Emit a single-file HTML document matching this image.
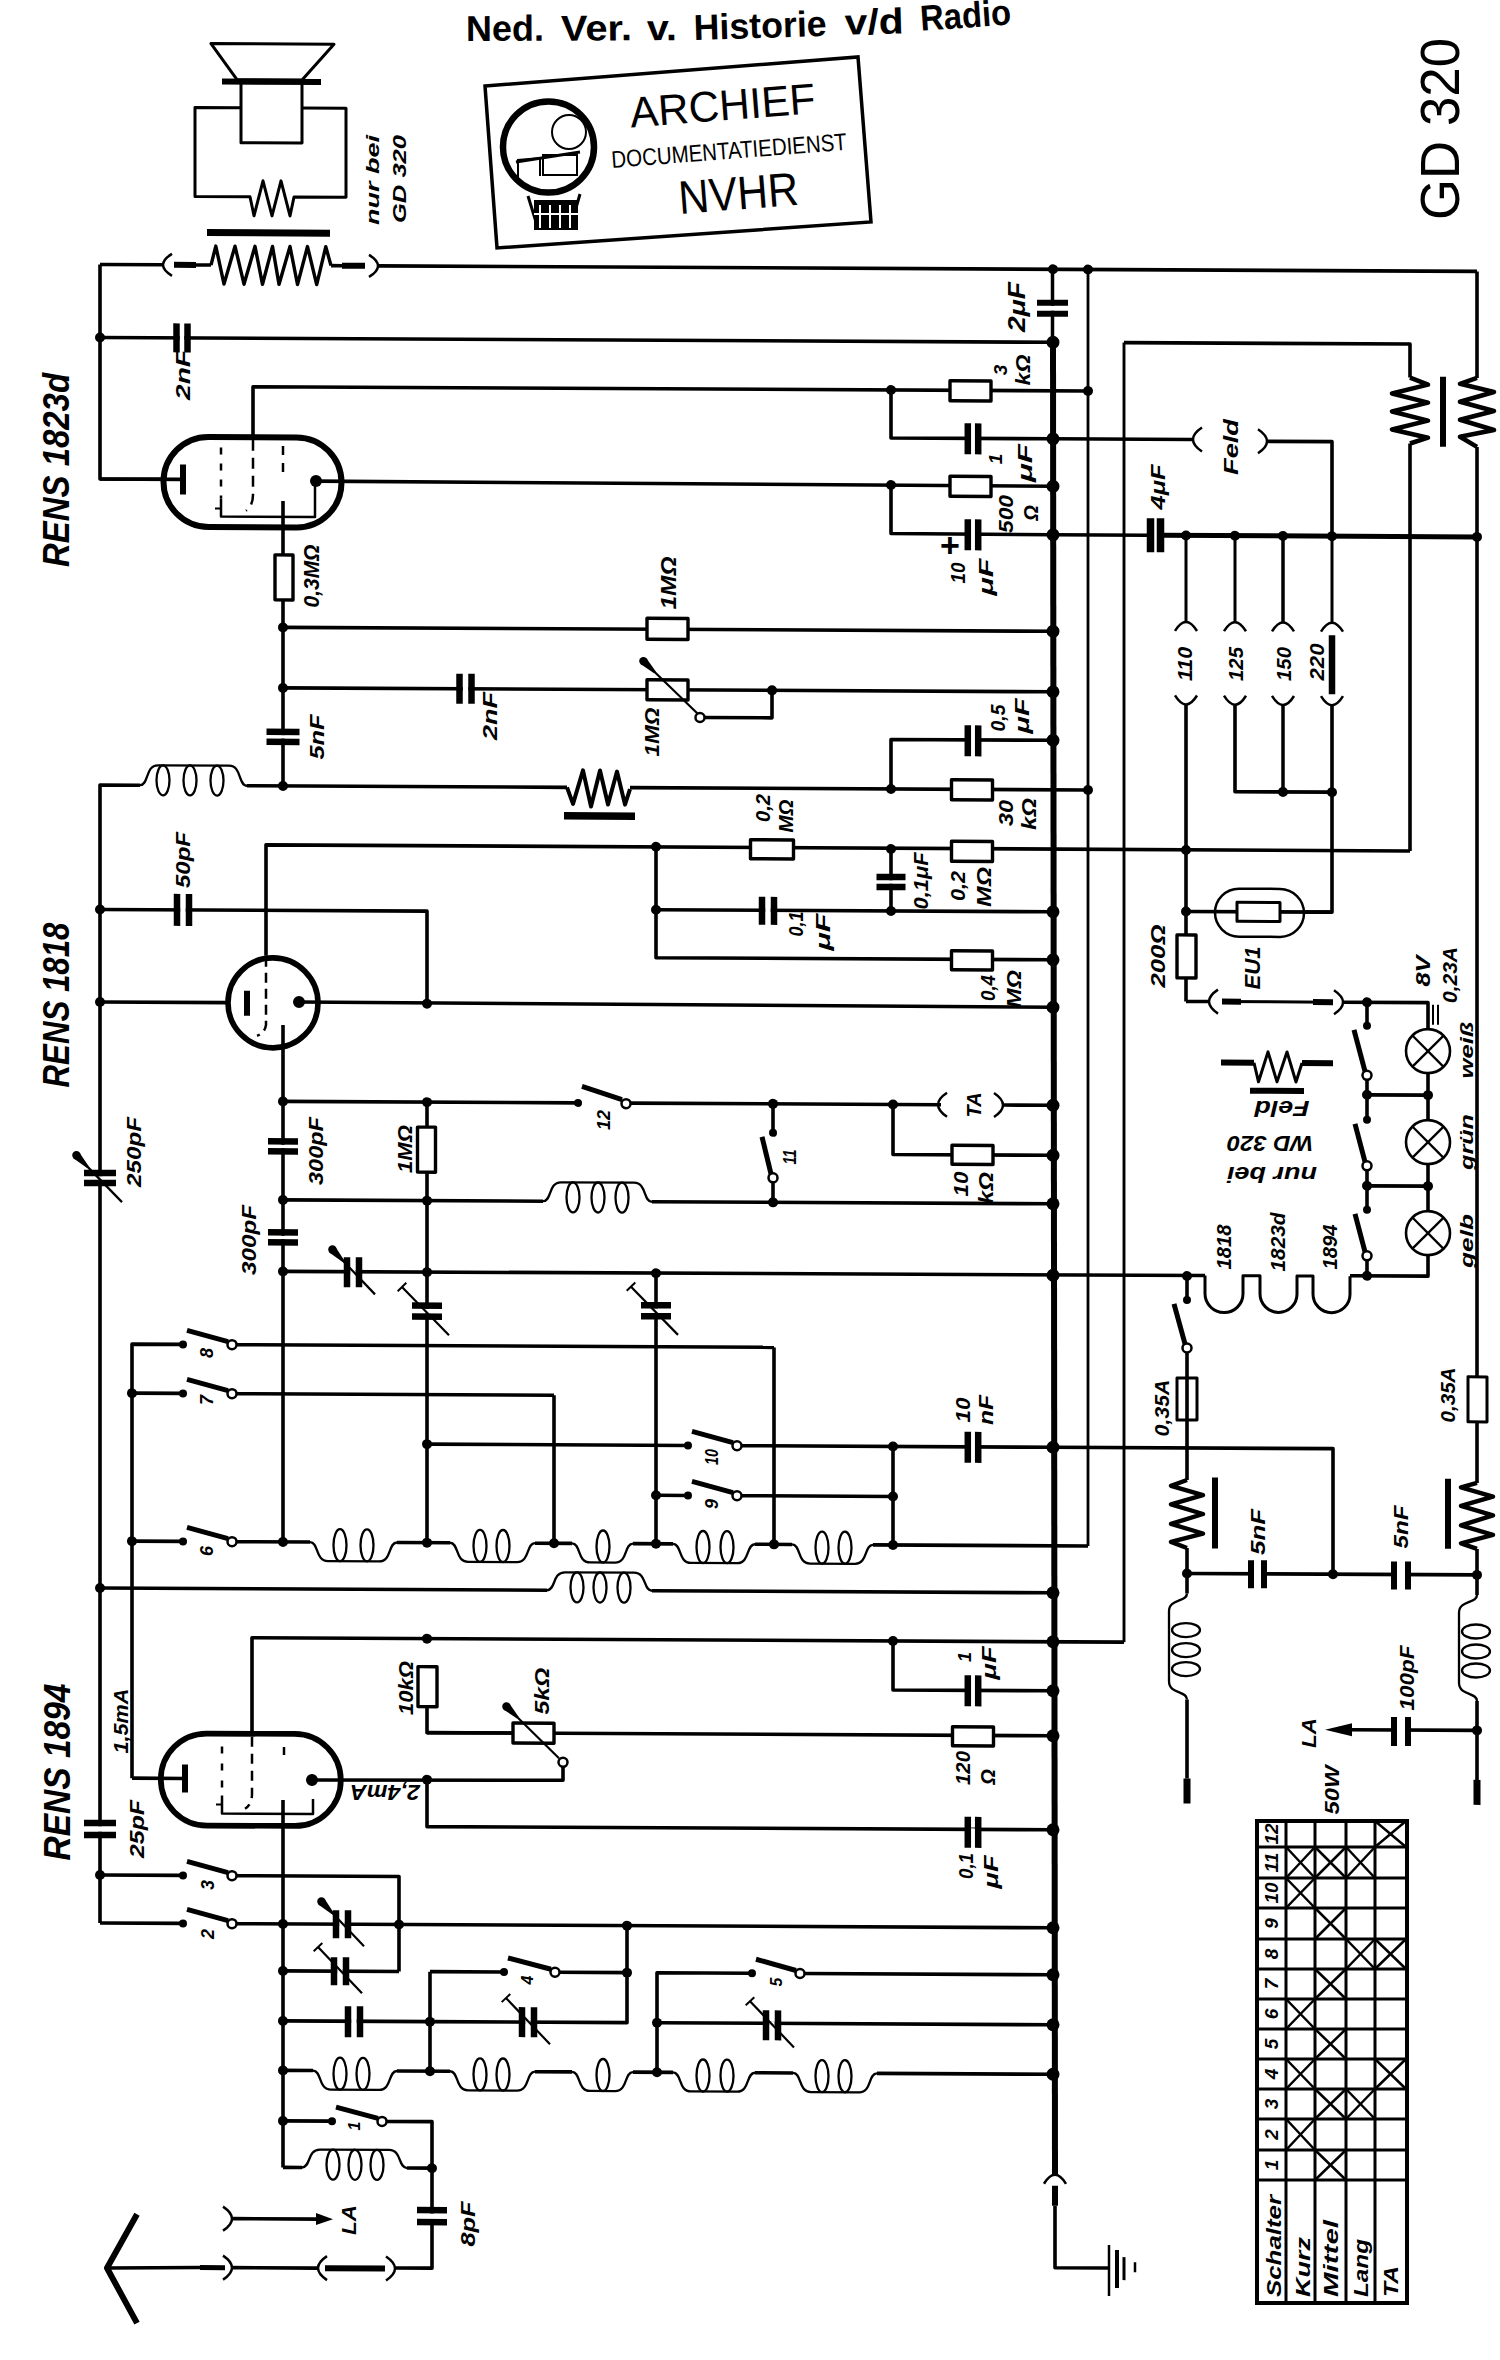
<!DOCTYPE html>
<html><head><meta charset="utf-8"><style>
html,body{margin:0;padding:0;background:#fff;}
svg{display:block;}
text{font-family:"Liberation Sans",sans-serif;fill:#000;}
</style></head><body>
<svg width="1500" height="2360" viewBox="0 0 1500 2360">
<rect width="1500" height="2360" fill="#fff"/>
<g stroke="#000" stroke-linecap="butt" stroke-linejoin="round" fill="none" transform="matrix(1,0.005,0,1,0,-2.5)">
<polygon points="211,45 334,45 302,81 237,81" stroke-width="3" fill="none"/>
<line x1="222" y1="83" x2="321" y2="83" stroke-width="6"/>
<polyline points="241,83 241,144 302,144 302,83" stroke-width="3" fill="none"/>
<polyline points="241,109 195,109 195,198 250,198 254,217 263,182 272,217 281,182 290,217 294,198 346,198 346,109 302,109" stroke-width="3" fill="none"/>
<line x1="207" y1="234" x2="330" y2="234" stroke-width="7"/>
<line x1="100" y1="266.5" x2="163" y2="266.5" stroke-width="3.6"/>
<path d="M172,255.5 Q154,266.5 172,277.5" stroke-width="2.5" fill="none"/>
<line x1="174" y1="266.5" x2="196" y2="266.5" stroke-width="6"/>
<line x1="196" y1="266.5" x2="211" y2="266.5" stroke-width="3.6"/>
<polyline points="211,266.5 215.8,247.5 224,285.5 235,247.5 244,285.5 255,247.5 262.5,285.5 272.5,247.5 279,285.5 290,247.5 297.5,285.5 307.5,247.5 316.7,285.5 325.8,247.5 331,266.5" stroke-width="3.4" fill="none"/>
<line x1="331" y1="266.5" x2="342" y2="266.5" stroke-width="3.6"/>
<line x1="342" y1="266.5" x2="365" y2="266.5" stroke-width="6"/>
<path d="M369,255.5 Q387,266.5 369,277.5" stroke-width="2.5" fill="none"/>
<line x1="378" y1="266.5" x2="1477" y2="266.5" stroke-width="3.6"/>
<circle cx="1053" cy="266.5" r="5" fill="#000" stroke="none"/>
<circle cx="1088" cy="266.5" r="5" fill="#000" stroke="none"/>
<polyline points="1477,266.5 1477,373" stroke-width="3.6" fill="none"/>
<polyline points="1124,1639 1124,339.5" stroke-width="2.9" fill="none"/>
<polyline points="1124,339.5 1410,339.5 1410,373" stroke-width="3.6" fill="none"/>
<polyline points="1410,373 1428,380 1392,389 1428,398 1392,407 1428,416 1392,425 1428,433 1410,439" stroke-width="4.6" fill="none"/>
<line x1="1443" y1="372" x2="1443" y2="442" stroke-width="6"/>
<polyline points="1477,373 1460,379 1494,387 1460,397 1494,406 1460,415 1494,425 1460,432 1477,442" stroke-width="4.6" fill="none"/>
<polyline points="1410,439 1410,846.5" stroke-width="3.6" fill="none"/>
<line x1="1477" y1="442" x2="1477" y2="1372" stroke-width="3.6"/>
<circle cx="1477" cy="532" r="5" fill="#000" stroke="none"/>
<line x1="1052.5" y1="266.5" x2="1052.5" y2="339.5" stroke-width="3.5"/>
<rect x="1048.5" y="303" width="8" height="5" fill="#fff" stroke="none"/>
<line x1="1037" y1="300" x2="1068" y2="300" stroke-width="6"/>
<line x1="1037" y1="311" x2="1068" y2="311" stroke-width="6"/>
<line x1="1053" y1="339.5" x2="1055" y2="2172.5" stroke-width="6"/>
<line x1="1088" y1="266.5" x2="1088" y2="1543" stroke-width="2.8"/>
<line x1="100" y1="339.5" x2="1053" y2="339.5" stroke-width="3.6"/>
<rect x="179.8" y="335.5" width="4.5" height="8" fill="#fff" stroke="none"/>
<line x1="176.5" y1="325" x2="176.5" y2="354" stroke-width="6.5"/>
<line x1="187.5" y1="325" x2="187.5" y2="354" stroke-width="6.5"/>
<circle cx="100" cy="339.5" r="5" fill="#000" stroke="none"/>
<circle cx="1053" cy="339.5" r="6.5" fill="#000" stroke="none"/>
<polyline points="162,481 100,481 100,266.5" stroke-width="3.6" fill="none"/>
<rect x="163.5" y="438.4" width="178" height="90" rx="45" ry="45" fill="none" stroke-width="6"/>
<line x1="181" y1="481" x2="100" y2="481" stroke-width="3.6"/>
<line x1="183" y1="466" x2="183" y2="496" stroke-width="6"/>
<polyline points="253,438.4 253,388 1088,388" stroke-width="3.6" fill="none"/>
<path d="M253,441 L253,496 Q253,507 246,512" fill="none" stroke-width="2.5" stroke-dasharray="11,7"/>
<line x1="221" y1="449" x2="221" y2="500" stroke-width="2.5" stroke-dasharray="7,9"/>
<polyline points="221,500 221,518 315,518 315,482" stroke-width="2.5" fill="none"/>
<line x1="215" y1="510" x2="221" y2="510" stroke-width="2"/>
<line x1="283" y1="447" x2="283" y2="478" stroke-width="2.5" stroke-dasharray="9,8"/>
<line x1="283" y1="502" x2="283" y2="787" stroke-width="3.6"/>
<circle cx="316" cy="482" r="6" fill="#000" stroke="none"/>
<rect x="275" y="556" width="18" height="45" fill="#fff" stroke-width="3.4"/>
<rect x="279" y="736.2" width="8" height="3.5" fill="#fff" stroke="none"/>
<line x1="266.5" y1="733" x2="299.5" y2="733" stroke-width="6.5"/>
<line x1="266.5" y1="743" x2="299.5" y2="743" stroke-width="6.5"/>
<circle cx="891" cy="388" r="5" fill="#000" stroke="none"/>
<circle cx="1088" cy="388" r="5" fill="#000" stroke="none"/>
<rect x="950" y="378.5" width="41" height="20" fill="#fff" stroke-width="3.4"/>
<polyline points="891,388 891,436 1053,436" stroke-width="3.6" fill="none"/>
<rect x="971" y="432.5" width="4" height="8" fill="#fff" stroke="none"/>
<line x1="967.8" y1="421" x2="967.8" y2="452" stroke-width="6.5"/>
<line x1="978.2" y1="421" x2="978.2" y2="452" stroke-width="6.5"/>
<circle cx="1053" cy="436" r="6.5" fill="#000" stroke="none"/>
<line x1="1053" y1="436" x2="1193" y2="436" stroke-width="3.6"/>
<path d="M1202,424 Q1184,436 1202,448" stroke-width="2.5" fill="none"/>
<path d="M1258,425.5 Q1276,437.5 1258,449.5" stroke-width="2.5" fill="none"/>
<polyline points="1267,437.5 1332,437.5 1332,532" stroke-width="3.6" fill="none"/>
<line x1="316" y1="482" x2="1053" y2="483.5" stroke-width="3.6"/>
<circle cx="891" cy="483" r="5" fill="#000" stroke="none"/>
<rect x="950" y="474" width="41" height="20" fill="#fff" stroke-width="3.4"/>
<circle cx="1053" cy="483.5" r="6.5" fill="#000" stroke="none"/>
<polyline points="891,483 891,531.5 1053,532" stroke-width="3.6" fill="none"/>
<rect x="971" y="528.5" width="4" height="8" fill="#fff" stroke="none"/>
<line x1="967.8" y1="517" x2="967.8" y2="548" stroke-width="6.5"/>
<line x1="978.2" y1="517" x2="978.2" y2="548" stroke-width="6.5"/>
<circle cx="1053" cy="532" r="6.5" fill="#000" stroke="none"/>
<line x1="1053" y1="532" x2="1148" y2="532" stroke-width="3.6"/>
<rect x="1154.2" y="528" width="2.5" height="8" fill="#fff" stroke="none"/>
<line x1="1150.5" y1="515" x2="1150.5" y2="549" stroke-width="7.5"/>
<line x1="1160.5" y1="515" x2="1160.5" y2="549" stroke-width="7.5"/>
<line x1="1162" y1="532" x2="1477" y2="532" stroke-width="5"/>
<circle cx="1186" cy="532" r="5" fill="#000" stroke="none"/>
<circle cx="1235" cy="532" r="5" fill="#000" stroke="none"/>
<circle cx="1283" cy="532" r="5" fill="#000" stroke="none"/>
<circle cx="1332" cy="532" r="5" fill="#000" stroke="none"/>
<line x1="1186" y1="532" x2="1186" y2="618.5" stroke-width="3"/>
<path d="M1175,627.5 Q1186,609.5 1197,627.5" stroke-width="2.5" fill="none"/>
<path d="M1175,692 Q1186,710 1197,692" stroke-width="2.5" fill="none"/>
<line x1="1235" y1="532" x2="1235" y2="618.5" stroke-width="3"/>
<path d="M1224,627.5 Q1235,609.5 1246,627.5" stroke-width="2.5" fill="none"/>
<path d="M1224,692 Q1235,710 1246,692" stroke-width="2.5" fill="none"/>
<line x1="1283" y1="532" x2="1283" y2="618.5" stroke-width="3.5"/>
<path d="M1272,627.5 Q1283,609.5 1294,627.5" stroke-width="2.5" fill="none"/>
<path d="M1272,692 Q1283,710 1294,692" stroke-width="2.5" fill="none"/>
<line x1="1332" y1="532" x2="1332" y2="618.5" stroke-width="3"/>
<path d="M1321,627.5 Q1332,609.5 1343,627.5" stroke-width="2.5" fill="none"/>
<path d="M1321,692 Q1332,710 1343,692" stroke-width="2.5" fill="none"/>
<line x1="1332" y1="631" x2="1332" y2="690" stroke-width="6.5"/>
<line x1="1186" y1="701" x2="1186" y2="998" stroke-width="3.6"/>
<rect x="1177" y="931.5" width="19" height="43" fill="#fff" stroke-width="3.4"/>
<circle cx="1186" cy="846.5" r="5" fill="#000" stroke="none"/>
<circle cx="1186" cy="908" r="5" fill="#000" stroke="none"/>
<polyline points="1186,998 1210,998" stroke-width="3.6" fill="none"/>
<polyline points="1235,701 1235,788 1332,788" stroke-width="3.6" fill="none"/>
<line x1="1283" y1="701" x2="1283" y2="788" stroke-width="3.5"/>
<circle cx="1283" cy="788" r="5" fill="#000" stroke="none"/>
<circle cx="1332" cy="788" r="5" fill="#000" stroke="none"/>
<polyline points="1332,701 1332,908 1304,908" stroke-width="3.6" fill="none"/>
<line x1="283" y1="628.5" x2="1053" y2="628.5" stroke-width="3.6"/>
<circle cx="283" cy="628.5" r="5" fill="#000" stroke="none"/>
<circle cx="1053" cy="628.5" r="6.5" fill="#000" stroke="none"/>
<rect x="647" y="617.5" width="41" height="21" fill="#fff" stroke-width="3.4"/>
<line x1="283" y1="689" x2="1053" y2="689" stroke-width="3.6"/>
<circle cx="283" cy="689" r="5" fill="#000" stroke="none"/>
<circle cx="1053" cy="689" r="6.5" fill="#000" stroke="none"/>
<rect x="462.8" y="685" width="5.5" height="8" fill="#fff" stroke="none"/>
<line x1="459.5" y1="674" x2="459.5" y2="704" stroke-width="6.5"/>
<line x1="471.5" y1="674" x2="471.5" y2="704" stroke-width="6.5"/>
<rect x="647" y="679" width="41" height="20" fill="#fff" stroke-width="3.4"/>
<line x1="642" y1="659" x2="698" y2="713" stroke-width="2.2"/>
<polygon points="640.5,663.4 654.1,672.4 655.8,670.6 646.4,657.4" fill="#000" stroke="none"/>
<circle cx="643.4" cy="660.4" r="4.2" fill="#000" stroke="none"/>
<circle cx="700" cy="716.5" r="4.5" fill="#fff" stroke-width="2.5"/>
<polyline points="704,716.5 772,716.5 772,689" stroke-width="3.6" fill="none"/>
<circle cx="772" cy="689" r="5" fill="#000" stroke="none"/>
<polyline points="891,787 891,737.5 1053,737.5" stroke-width="3.6" fill="none"/>
<rect x="971" y="734.5" width="4" height="8" fill="#fff" stroke="none"/>
<line x1="967.8" y1="723" x2="967.8" y2="754" stroke-width="6.5"/>
<line x1="978.2" y1="723" x2="978.2" y2="754" stroke-width="6.5"/>
<circle cx="1053" cy="737.5" r="6.5" fill="#000" stroke="none"/>
<polyline points="100,1925 100,787 140,787" stroke-width="3.6" fill="none"/>
<path d="M140,787 C149,787 145,767 158,767 L229,767 C242,767 238,787 247,787" stroke-width="2.3" fill="none"/>
<ellipse cx="163" cy="782" rx="6.5" ry="15" fill="none" stroke-width="2.3"/>
<ellipse cx="190" cy="782" rx="6.5" ry="15" fill="none" stroke-width="2.3"/>
<ellipse cx="217" cy="782" rx="6.5" ry="15" fill="none" stroke-width="2.3"/>
<line x1="247" y1="787" x2="567" y2="787" stroke-width="3.6"/>
<polyline points="567,787 573,803.5 583,770 591,806 600,770 608,804 617,771 625,804 630,788.5" stroke-width="4" fill="none"/>
<line x1="564" y1="815.5" x2="635" y2="815.5" stroke-width="7.5"/>
<line x1="630" y1="787" x2="1088" y2="787" stroke-width="3.6"/>
<circle cx="283" cy="787" r="5" fill="#000" stroke="none"/>
<circle cx="891" cy="787" r="5" fill="#000" stroke="none"/>
<circle cx="1088" cy="787" r="5" fill="#000" stroke="none"/>
<rect x="951.5" y="777.5" width="41" height="20" fill="#fff" stroke-width="3.4"/>
<polyline points="266,957 266,846 1410,846.5" stroke-width="3.6" fill="none"/>
<circle cx="656" cy="846" r="5" fill="#000" stroke="none"/>
<circle cx="891" cy="847" r="5" fill="#000" stroke="none"/>
<rect x="750.5" y="838.5" width="43" height="19" fill="#fff" stroke-width="3.4"/>
<rect x="951.5" y="839" width="41" height="20" fill="#fff" stroke-width="3.4"/>
<line x1="891" y1="847" x2="891" y2="909" stroke-width="3.6"/>
<rect x="887" y="878.2" width="8" height="3.5" fill="#fff" stroke="none"/>
<line x1="876.5" y1="875" x2="905.5" y2="875" stroke-width="6.5"/>
<line x1="876.5" y1="885" x2="905.5" y2="885" stroke-width="6.5"/>
<circle cx="891" cy="909" r="5" fill="#000" stroke="none"/>
<polyline points="100,911.5 427,911.5 427,1004" stroke-width="3.6" fill="none"/>
<rect x="180.2" y="907.5" width="5.5" height="8" fill="#fff" stroke="none"/>
<line x1="177" y1="895.5" x2="177" y2="927.5" stroke-width="6.5"/>
<line x1="189" y1="895.5" x2="189" y2="927.5" stroke-width="6.5"/>
<circle cx="100" cy="911.5" r="5" fill="#000" stroke="none"/>
<line x1="656" y1="909" x2="1053" y2="909" stroke-width="3.6"/>
<circle cx="656" cy="909" r="5" fill="#000" stroke="none"/>
<circle cx="1053" cy="909" r="6.5" fill="#000" stroke="none"/>
<rect x="765.2" y="905.5" width="5.5" height="8" fill="#fff" stroke="none"/>
<line x1="762" y1="895.5" x2="762" y2="923.5" stroke-width="6.5"/>
<line x1="774" y1="895.5" x2="774" y2="923.5" stroke-width="6.5"/>
<polyline points="656,846 656,957 1053,957" stroke-width="3.6" fill="none"/>
<rect x="951.5" y="948.5" width="41" height="19" fill="#fff" stroke-width="3.4"/>
<circle cx="1053" cy="957" r="6.5" fill="#000" stroke="none"/>
<line x1="1186" y1="908" x2="1332" y2="908" stroke-width="3.6"/>
<rect x="1215" y="885" width="89" height="48" rx="24" ry="24" fill="none" stroke-width="2.5"/>
<rect x="1237" y="898.6" width="43" height="19" fill="#fff" stroke-width="3"/>
<line x1="100" y1="1004" x2="227" y2="1004" stroke-width="3.6"/>
<circle cx="100" cy="1004" r="5" fill="#000" stroke="none"/>
<circle cx="273" cy="1004" r="45" fill="none" stroke-width="5.6"/>
<line x1="247" y1="992" x2="247" y2="1017" stroke-width="6"/>
<circle cx="299" cy="1003" r="6" fill="#000" stroke="none"/>
<line x1="299" y1="1003" x2="1053" y2="1004.5" stroke-width="3.6"/>
<circle cx="427" cy="1004" r="5" fill="#000" stroke="none"/>
<circle cx="1053" cy="1004.5" r="6.5" fill="#000" stroke="none"/>
<path d="M266,958 L266,1026 Q265,1034 257,1037" fill="none" stroke-width="2.5" stroke-dasharray="10,6"/>
<line x1="283" y1="1026" x2="283" y2="1543" stroke-width="3.6"/>
<circle cx="283" cy="1102.5" r="5" fill="#000" stroke="none"/>
<circle cx="283" cy="1201" r="5" fill="#000" stroke="none"/>
<circle cx="283" cy="1272.5" r="5" fill="#000" stroke="none"/>
<circle cx="283" cy="1543" r="5" fill="#000" stroke="none"/>
<rect x="279" y="1145.8" width="8" height="3.5" fill="#fff" stroke="none"/>
<line x1="268" y1="1142.5" x2="298" y2="1142.5" stroke-width="6.5"/>
<line x1="268" y1="1152.5" x2="298" y2="1152.5" stroke-width="6.5"/>
<rect x="279" y="1236.8" width="8" height="3.5" fill="#fff" stroke="none"/>
<line x1="268" y1="1233.5" x2="298" y2="1233.5" stroke-width="6.5"/>
<line x1="268" y1="1243.5" x2="298" y2="1243.5" stroke-width="6.5"/>
<line x1="283" y1="1102.5" x2="578" y2="1102.5" stroke-width="3.6"/>
<circle cx="578" cy="1102.5" r="4" fill="#000" stroke="none"/>
<line x1="582" y1="1086" x2="622" y2="1099" stroke-width="5"/>
<circle cx="626" cy="1103" r="4.5" fill="#fff" stroke-width="2.5"/>
<line x1="630" y1="1102.5" x2="941" y2="1102.5" stroke-width="3.6"/>
<circle cx="427" cy="1102.5" r="5" fill="#000" stroke="none"/>
<circle cx="773" cy="1102.5" r="5" fill="#000" stroke="none"/>
<circle cx="893" cy="1102.5" r="5" fill="#000" stroke="none"/>
<path d="M947,1090.5 Q929,1102.5 947,1114.5" stroke-width="2.5" fill="none"/>
<path d="M994,1090.5 Q1012,1102.5 994,1114.5" stroke-width="2.5" fill="none"/>
<line x1="1003" y1="1102.5" x2="1053" y2="1102.5" stroke-width="3.6"/>
<circle cx="1053" cy="1102.5" r="6.5" fill="#000" stroke="none"/>
<line x1="427" y1="1102.5" x2="427" y2="1543" stroke-width="3.6"/>
<rect x="417.5" y="1127.5" width="18" height="45" fill="#fff" stroke-width="3.4"/>
<circle cx="427" cy="1201" r="5" fill="#000" stroke="none"/>
<circle cx="427" cy="1272.5" r="5" fill="#000" stroke="none"/>
<circle cx="427" cy="1444.5" r="5" fill="#000" stroke="none"/>
<circle cx="427" cy="1543" r="5" fill="#000" stroke="none"/>
<rect x="423" y="1309.2" width="8" height="4.5" fill="#fff" stroke="none"/>
<line x1="412" y1="1306" x2="442" y2="1306" stroke-width="6.5"/>
<line x1="412" y1="1317" x2="442" y2="1317" stroke-width="6.5"/>
<line x1="402" y1="1287.5" x2="449" y2="1335.5" stroke-width="2.2"/>
<line x1="397.7" y1="1291.7" x2="406.3" y2="1283.3" stroke-width="2"/>
<line x1="773" y1="1102.5" x2="773" y2="1131.5" stroke-width="3.6"/>
<circle cx="773" cy="1131.5" r="4" fill="#000" stroke="none"/>
<line x1="762" y1="1135.5" x2="771" y2="1172.5" stroke-width="5"/>
<circle cx="773" cy="1176.5" r="4.5" fill="#fff" stroke-width="2.5"/>
<line x1="773" y1="1181" x2="773" y2="1201" stroke-width="3.6"/>
<circle cx="773" cy="1201" r="5" fill="#000" stroke="none"/>
<polyline points="893,1102.5 893,1152.5 1053,1152.5" stroke-width="3.6" fill="none"/>
<rect x="952" y="1143" width="41" height="19" fill="#fff" stroke-width="3.4"/>
<circle cx="1053" cy="1152.5" r="6.5" fill="#000" stroke="none"/>
<line x1="283" y1="1201" x2="543" y2="1201" stroke-width="3.6"/>
<path d="M543,1201 C552,1201 548,1182 561,1182 L634,1182 C647,1182 643,1201 652,1201" stroke-width="2.3" fill="none"/>
<ellipse cx="573" cy="1197" rx="6.5" ry="15" fill="none" stroke-width="2.3"/>
<ellipse cx="598" cy="1197" rx="6.5" ry="15" fill="none" stroke-width="2.3"/>
<ellipse cx="622" cy="1197" rx="6.5" ry="15" fill="none" stroke-width="2.3"/>
<line x1="652" y1="1201" x2="1053" y2="1201" stroke-width="3.6"/>
<circle cx="1053" cy="1201" r="6.5" fill="#000" stroke="none"/>
<line x1="283" y1="1272.5" x2="1205" y2="1272" stroke-width="3.6"/>
<rect x="350.2" y="1269" width="5.5" height="8" fill="#fff" stroke="none"/>
<line x1="347" y1="1258" x2="347" y2="1288" stroke-width="6.5"/>
<line x1="359" y1="1258" x2="359" y2="1288" stroke-width="6.5"/>
<line x1="331" y1="1249" x2="375" y2="1295" stroke-width="2.2"/>
<polygon points="329.3,1253.3 342.6,1262.8 344.3,1261.2 335.4,1247.5" fill="#000" stroke="none"/>
<circle cx="332.4" cy="1250.4" r="4.2" fill="#000" stroke="none"/>
<circle cx="656" cy="1272.5" r="5" fill="#000" stroke="none"/>
<circle cx="1053" cy="1272.5" r="6.5" fill="#000" stroke="none"/>
<circle cx="1187" cy="1272.5" r="5" fill="#000" stroke="none"/>
<path d="M1205,1272 L1205,1290 A19,19 0 0 0 1243,1290 L1243,1272 L1260,1272 L1260,1290 A18.5,18.5 0 0 0 1297,1290 L1297,1272 L1313,1272 L1313,1290 A18.5,18.5 0 0 0 1350,1290 L1350,1272" stroke-width="3" fill="none"/>
<polyline points="1350,1271.5 1428,1271.5 1428,1250.5" stroke-width="3.6" fill="none"/>
<circle cx="1367" cy="1271.5" r="5" fill="#000" stroke="none"/>
<line x1="656" y1="1272.5" x2="656" y2="1543" stroke-width="3.6"/>
<rect x="652" y="1307.8" width="8" height="4.5" fill="#fff" stroke="none"/>
<line x1="641" y1="1304.5" x2="671" y2="1304.5" stroke-width="6.5"/>
<line x1="641" y1="1315.5" x2="671" y2="1315.5" stroke-width="6.5"/>
<line x1="631" y1="1286" x2="678" y2="1334" stroke-width="2.2"/>
<line x1="626.7" y1="1290.2" x2="635.3" y2="1281.8" stroke-width="2"/>
<circle cx="656" cy="1494.5" r="5" fill="#000" stroke="none"/>
<circle cx="656" cy="1543" r="5" fill="#000" stroke="none"/>
<polyline points="132,1780 132,1346 183,1346" stroke-width="3.6" fill="none"/>
<circle cx="183" cy="1346" r="4" fill="#000" stroke="none"/>
<line x1="187" y1="1332" x2="228" y2="1343" stroke-width="5"/>
<circle cx="232" cy="1346" r="4.5" fill="#fff" stroke-width="2.5"/>
<line x1="236" y1="1346" x2="774" y2="1346" stroke-width="3.6"/>
<polyline points="774,1346 774,1543" stroke-width="3.6" fill="none"/>
<circle cx="132" cy="1395" r="5" fill="#000" stroke="none"/>
<line x1="132" y1="1395" x2="183" y2="1395" stroke-width="3.6"/>
<circle cx="183" cy="1395" r="4" fill="#000" stroke="none"/>
<line x1="187" y1="1381" x2="228" y2="1392" stroke-width="5"/>
<circle cx="232" cy="1395" r="4.5" fill="#fff" stroke-width="2.5"/>
<line x1="236" y1="1395" x2="554" y2="1395" stroke-width="3.6"/>
<polyline points="554,1395 554,1543" stroke-width="3.6" fill="none"/>
<line x1="427" y1="1444.5" x2="688" y2="1444.5" stroke-width="3.6"/>
<circle cx="688" cy="1444.5" r="4" fill="#000" stroke="none"/>
<line x1="692" y1="1430.5" x2="733" y2="1441.5" stroke-width="5"/>
<circle cx="737" cy="1444.5" r="4.5" fill="#fff" stroke-width="2.5"/>
<line x1="741" y1="1444.5" x2="1053" y2="1444.5" stroke-width="3.6"/>
<rect x="971" y="1441" width="4" height="8" fill="#fff" stroke="none"/>
<line x1="967.8" y1="1429.5" x2="967.8" y2="1460.5" stroke-width="6.5"/>
<line x1="978.2" y1="1429.5" x2="978.2" y2="1460.5" stroke-width="6.5"/>
<circle cx="893" cy="1444.5" r="5" fill="#000" stroke="none"/>
<circle cx="1053" cy="1444.5" r="6.5" fill="#000" stroke="none"/>
<polyline points="1053,1444.5 1333,1444.5 1333,1570" stroke-width="3.6" fill="none"/>
<line x1="656" y1="1494.5" x2="688" y2="1494.5" stroke-width="3.6"/>
<circle cx="688" cy="1494.5" r="4" fill="#000" stroke="none"/>
<line x1="692" y1="1480.5" x2="733" y2="1491.5" stroke-width="5"/>
<circle cx="737" cy="1494.5" r="4.5" fill="#fff" stroke-width="2.5"/>
<line x1="741" y1="1494.5" x2="893" y2="1494.5" stroke-width="3.6"/>
<circle cx="893" cy="1494.5" r="5" fill="#000" stroke="none"/>
<line x1="893" y1="1444.5" x2="893" y2="1543" stroke-width="3.6"/>
<line x1="132" y1="1543" x2="183" y2="1543" stroke-width="3.6"/>
<circle cx="183" cy="1543" r="4" fill="#000" stroke="none"/>
<line x1="187" y1="1529" x2="228" y2="1540" stroke-width="5"/>
<circle cx="232" cy="1543" r="4.5" fill="#fff" stroke-width="2.5"/>
<circle cx="132" cy="1543" r="5" fill="#000" stroke="none"/>
<line x1="236" y1="1543" x2="310" y2="1543" stroke-width="3.6"/>
<path d="M310,1543 C319,1543 315,1562 328,1562 L379,1562 C392,1562 388,1543 397,1543" stroke-width="2.3" fill="none"/>
<ellipse cx="340" cy="1546" rx="6.5" ry="16" fill="none" stroke-width="2.3"/>
<ellipse cx="367" cy="1546" rx="6.5" ry="16" fill="none" stroke-width="2.3"/>
<line x1="397" y1="1543" x2="450" y2="1543" stroke-width="3.6"/>
<path d="M450,1543 C459,1543 455,1562 468,1562 L517,1562 C530,1562 526,1543 535,1543" stroke-width="2.3" fill="none"/>
<ellipse cx="480" cy="1546" rx="6.5" ry="16" fill="none" stroke-width="2.3"/>
<ellipse cx="503" cy="1546" rx="6.5" ry="16" fill="none" stroke-width="2.3"/>
<line x1="535" y1="1543" x2="572" y2="1543" stroke-width="3.6"/>
<path d="M572,1543 C581,1543 577,1562 590,1562 L615,1562 C628,1562 624,1543 633,1543" stroke-width="2.3" fill="none"/>
<ellipse cx="603" cy="1546" rx="6.5" ry="16" fill="none" stroke-width="2.3"/>
<line x1="633" y1="1543" x2="673" y2="1543" stroke-width="3.6"/>
<path d="M673,1543 C682,1543 678,1562 691,1562 L737,1562 C750,1562 746,1543 755,1543" stroke-width="2.3" fill="none"/>
<ellipse cx="703" cy="1546" rx="6.5" ry="16" fill="none" stroke-width="2.3"/>
<ellipse cx="727" cy="1546" rx="6.5" ry="16" fill="none" stroke-width="2.3"/>
<line x1="755" y1="1543" x2="792" y2="1543" stroke-width="3.6"/>
<path d="M792,1543 C801,1543 797,1562 810,1562 L855,1562 C868,1562 864,1543 873,1543" stroke-width="2.3" fill="none"/>
<ellipse cx="822" cy="1546" rx="6.5" ry="16" fill="none" stroke-width="2.3"/>
<ellipse cx="845" cy="1546" rx="6.5" ry="16" fill="none" stroke-width="2.3"/>
<line x1="873" y1="1543" x2="1088" y2="1543" stroke-width="3.6"/>
<circle cx="554" cy="1543" r="5" fill="#000" stroke="none"/>
<circle cx="774" cy="1543" r="5" fill="#000" stroke="none"/>
<circle cx="893" cy="1543" r="5" fill="#000" stroke="none"/>
<line x1="100" y1="1590" x2="547" y2="1590" stroke-width="3.6"/>
<path d="M547,1590 C556,1590 552,1572 565,1572 L634,1572 C647,1572 643,1590 652,1590" stroke-width="2.3" fill="none"/>
<ellipse cx="577" cy="1587" rx="6.5" ry="15" fill="none" stroke-width="2.3"/>
<ellipse cx="600" cy="1587" rx="6.5" ry="15" fill="none" stroke-width="2.3"/>
<ellipse cx="624" cy="1587" rx="6.5" ry="15" fill="none" stroke-width="2.3"/>
<line x1="652" y1="1590" x2="1053" y2="1590" stroke-width="3.6"/>
<circle cx="100" cy="1590" r="5" fill="#000" stroke="none"/>
<circle cx="1053" cy="1590" r="6.5" fill="#000" stroke="none"/>
<polyline points="252,1735 252,1639 1124,1639" stroke-width="3.6" fill="none"/>
<circle cx="427" cy="1639" r="5" fill="#000" stroke="none"/>
<circle cx="893" cy="1639" r="5" fill="#000" stroke="none"/>
<circle cx="1053" cy="1639" r="6.5" fill="#000" stroke="none"/>
<rect x="418" y="1667" width="19" height="40" fill="#fff" stroke-width="3.4"/>
<polyline points="427,1707 427,1733 513,1733" stroke-width="3.6" fill="none"/>
<polyline points="893,1639 893,1688 1053,1688" stroke-width="3.6" fill="none"/>
<rect x="971" y="1684.5" width="4" height="8" fill="#fff" stroke="none"/>
<line x1="967.8" y1="1673" x2="967.8" y2="1704" stroke-width="6.5"/>
<line x1="978.2" y1="1673" x2="978.2" y2="1704" stroke-width="6.5"/>
<circle cx="1053" cy="1688" r="6.5" fill="#000" stroke="none"/>
<line x1="427" y1="1733" x2="1053" y2="1733" stroke-width="3.6"/>
<rect x="513" y="1723" width="41" height="20" fill="#fff" stroke-width="3.4"/>
<line x1="505" y1="1705" x2="559" y2="1758" stroke-width="2.2"/>
<polygon points="503.5,1709.4 517,1718.5 518.7,1716.8 509.4,1703.4" fill="#000" stroke="none"/>
<circle cx="506.4" cy="1706.4" r="4.2" fill="#000" stroke="none"/>
<circle cx="563" cy="1762" r="4.5" fill="#fff" stroke-width="2.5"/>
<polyline points="563,1766 563,1780 312,1781" stroke-width="3.6" fill="none"/>
<circle cx="427" cy="1780" r="5" fill="#000" stroke="none"/>
<rect x="952.5" y="1724.5" width="41" height="19" fill="#fff" stroke-width="3.4"/>
<circle cx="1053" cy="1733" r="6.5" fill="#000" stroke="none"/>
<rect x="160.8" y="1735" width="180" height="92" rx="46" ry="46" fill="none" stroke-width="5.7"/>
<line x1="132" y1="1780" x2="185" y2="1780" stroke-width="3.6"/>
<line x1="185" y1="1766" x2="185" y2="1794" stroke-width="6"/>
<path d="M252,1738 L252,1795 Q252,1806 245,1810" fill="none" stroke-width="2.5" stroke-dasharray="10,7"/>
<line x1="222" y1="1748" x2="222" y2="1797" stroke-width="2.5" stroke-dasharray="7,10"/>
<polyline points="222,1797 222,1815 313,1815 313,1800" stroke-width="2.5" fill="none"/>
<line x1="216" y1="1806" x2="222" y2="1806" stroke-width="2"/>
<line x1="284" y1="1748" x2="284" y2="1756" stroke-width="2.5"/>
<line x1="283" y1="1801" x2="283" y2="2168.5" stroke-width="3.6"/>
<circle cx="312" cy="1781" r="6" fill="#000" stroke="none"/>
<polyline points="427,1780 427,1827 1053,1827" stroke-width="3.6" fill="none"/>
<rect x="971" y="1826" width="4" height="8" fill="#fff" stroke="none"/>
<line x1="967.8" y1="1814.5" x2="967.8" y2="1845.5" stroke-width="6.5"/>
<line x1="978.2" y1="1814.5" x2="978.2" y2="1845.5" stroke-width="6.5"/>
<circle cx="1053" cy="1827" r="6.5" fill="#000" stroke="none"/>
<rect x="96" y="1178.2" width="8" height="3.5" fill="#fff" stroke="none"/>
<line x1="84" y1="1175" x2="116" y2="1175" stroke-width="6.5"/>
<line x1="84" y1="1185" x2="116" y2="1185" stroke-width="6.5"/>
<line x1="75" y1="1156" x2="122" y2="1204" stroke-width="2.2"/>
<polygon points="73.4,1160.4 86.7,1169.7 88.5,1168 79.4,1154.5" fill="#000" stroke="none"/>
<circle cx="76.4" cy="1157.4" r="4.2" fill="#000" stroke="none"/>
<rect x="96" y="1828.2" width="8" height="5.5" fill="#fff" stroke="none"/>
<line x1="84" y1="1825" x2="116" y2="1825" stroke-width="6.5"/>
<line x1="84" y1="1837" x2="116" y2="1837" stroke-width="6.5"/>
<line x1="100" y1="1877" x2="183" y2="1877" stroke-width="3.6"/>
<circle cx="183" cy="1877" r="4" fill="#000" stroke="none"/>
<line x1="187" y1="1863" x2="228" y2="1874" stroke-width="5"/>
<circle cx="232" cy="1877" r="4.5" fill="#fff" stroke-width="2.5"/>
<polyline points="236,1877 399,1877 399,1972" stroke-width="3.6" fill="none"/>
<circle cx="100" cy="1877" r="5" fill="#000" stroke="none"/>
<line x1="100" y1="1925" x2="183" y2="1925" stroke-width="3.6"/>
<circle cx="183" cy="1925" r="4" fill="#000" stroke="none"/>
<line x1="187" y1="1911" x2="228" y2="1922" stroke-width="5"/>
<circle cx="232" cy="1925" r="4.5" fill="#fff" stroke-width="2.5"/>
<line x1="236" y1="1925" x2="1053" y2="1925" stroke-width="3.6"/>
<circle cx="283" cy="1925" r="5" fill="#000" stroke="none"/>
<circle cx="399" cy="1925" r="5" fill="#000" stroke="none"/>
<circle cx="627" cy="1925" r="5" fill="#000" stroke="none"/>
<circle cx="1053" cy="1925" r="6.5" fill="#000" stroke="none"/>
<rect x="339.2" y="1921" width="5.5" height="8" fill="#fff" stroke="none"/>
<line x1="336" y1="1911" x2="336" y2="1939" stroke-width="6.5"/>
<line x1="348" y1="1911" x2="348" y2="1939" stroke-width="6.5"/>
<line x1="320" y1="1901" x2="364" y2="1947" stroke-width="2.2"/>
<polygon points="318.3,1905.3 331.6,1914.8 333.3,1913.2 324.4,1899.5" fill="#000" stroke="none"/>
<circle cx="321.4" cy="1902.4" r="4.2" fill="#000" stroke="none"/>
<line x1="283" y1="1972" x2="399" y2="1972" stroke-width="3.6"/>
<rect x="337.2" y="1968" width="5.5" height="8" fill="#fff" stroke="none"/>
<line x1="334" y1="1958" x2="334" y2="1986" stroke-width="6.5"/>
<line x1="346" y1="1958" x2="346" y2="1986" stroke-width="6.5"/>
<line x1="318" y1="1948" x2="362" y2="1994" stroke-width="2.2"/>
<line x1="313.7" y1="1952.1" x2="322.3" y2="1943.9" stroke-width="2"/>
<circle cx="283" cy="1972" r="5" fill="#000" stroke="none"/>
<line x1="430" y1="1972" x2="504" y2="1972" stroke-width="3.6"/>
<circle cx="504" cy="1972" r="4" fill="#000" stroke="none"/>
<line x1="508" y1="1958" x2="551" y2="1969" stroke-width="5"/>
<circle cx="555" cy="1972" r="4.5" fill="#fff" stroke-width="2.5"/>
<line x1="559" y1="1972" x2="627" y2="1972" stroke-width="3.6"/>
<circle cx="627" cy="1972" r="5" fill="#000" stroke="none"/>
<polyline points="627,1925 627,2022 430,2022" stroke-width="3.6" fill="none"/>
<line x1="283" y1="2022" x2="430" y2="2022" stroke-width="3.6"/>
<rect x="351.2" y="2018.5" width="5.5" height="8" fill="#fff" stroke="none"/>
<line x1="348" y1="2007" x2="348" y2="2038" stroke-width="6.5"/>
<line x1="360" y1="2007" x2="360" y2="2038" stroke-width="6.5"/>
<circle cx="283" cy="2022" r="5" fill="#000" stroke="none"/>
<circle cx="430" cy="2022" r="5" fill="#000" stroke="none"/>
<rect x="525.2" y="2018" width="5.5" height="8" fill="#fff" stroke="none"/>
<line x1="522" y1="2007" x2="522" y2="2037" stroke-width="6.5"/>
<line x1="534" y1="2007" x2="534" y2="2037" stroke-width="6.5"/>
<line x1="506" y1="1998" x2="550" y2="2044" stroke-width="2.2"/>
<line x1="501.7" y1="2002.1" x2="510.3" y2="1993.9" stroke-width="2"/>
<line x1="430" y1="1972" x2="430" y2="2071.5" stroke-width="3.6"/>
<polyline points="657,2071.5 657,1972 752,1972" stroke-width="3.6" fill="none"/>
<circle cx="752" cy="1972" r="4" fill="#000" stroke="none"/>
<line x1="756" y1="1958" x2="796" y2="1969" stroke-width="5"/>
<circle cx="800" cy="1972" r="4.5" fill="#fff" stroke-width="2.5"/>
<line x1="804" y1="1972" x2="1053" y2="1972" stroke-width="3.6"/>
<circle cx="1053" cy="1972" r="6.5" fill="#000" stroke="none"/>
<line x1="657" y1="2022" x2="1053" y2="2022" stroke-width="3.6"/>
<circle cx="657" cy="2022" r="5" fill="#000" stroke="none"/>
<circle cx="1053" cy="2022" r="6.5" fill="#000" stroke="none"/>
<rect x="769.2" y="2020" width="5.5" height="8" fill="#fff" stroke="none"/>
<line x1="766" y1="2009" x2="766" y2="2039" stroke-width="6.5"/>
<line x1="778" y1="2009" x2="778" y2="2039" stroke-width="6.5"/>
<line x1="750" y1="2000" x2="794" y2="2046" stroke-width="2.2"/>
<line x1="745.7" y1="2004.1" x2="754.3" y2="1995.9" stroke-width="2"/>
<line x1="283" y1="2071.5" x2="313" y2="2071.5" stroke-width="3.6"/>
<path d="M313,2071.5 C322,2071.5 318,2090.5 331,2090.5 L379,2090.5 C392,2090.5 388,2071.5 397,2071.5" stroke-width="2.3" fill="none"/>
<ellipse cx="340" cy="2074.5" rx="6.5" ry="16" fill="none" stroke-width="2.3"/>
<ellipse cx="363" cy="2074.5" rx="6.5" ry="16" fill="none" stroke-width="2.3"/>
<line x1="397" y1="2071.5" x2="450" y2="2071.5" stroke-width="3.6"/>
<path d="M450,2071.5 C459,2071.5 455,2090.5 468,2090.5 L517,2090.5 C530,2090.5 526,2071.5 535,2071.5" stroke-width="2.3" fill="none"/>
<ellipse cx="480" cy="2074.5" rx="6.5" ry="16" fill="none" stroke-width="2.3"/>
<ellipse cx="503" cy="2074.5" rx="6.5" ry="16" fill="none" stroke-width="2.3"/>
<line x1="535" y1="2071.5" x2="572" y2="2071.5" stroke-width="3.6"/>
<path d="M572,2071.5 C581,2071.5 577,2090.5 590,2090.5 L615,2090.5 C628,2090.5 624,2071.5 633,2071.5" stroke-width="2.3" fill="none"/>
<ellipse cx="603" cy="2074.5" rx="6.5" ry="16" fill="none" stroke-width="2.3"/>
<line x1="633" y1="2071.5" x2="673" y2="2071.5" stroke-width="3.6"/>
<path d="M673,2071.5 C682,2071.5 678,2090.5 691,2090.5 L737,2090.5 C750,2090.5 746,2071.5 755,2071.5" stroke-width="2.3" fill="none"/>
<ellipse cx="703" cy="2074.5" rx="6.5" ry="16" fill="none" stroke-width="2.3"/>
<ellipse cx="727" cy="2074.5" rx="6.5" ry="16" fill="none" stroke-width="2.3"/>
<line x1="755" y1="2071.5" x2="793" y2="2071.5" stroke-width="3.6"/>
<path d="M793,2071.5 C802,2071.5 798,2090.5 811,2090.5 L859,2090.5 C872,2090.5 868,2071.5 877,2071.5" stroke-width="2.3" fill="none"/>
<ellipse cx="822" cy="2074.5" rx="6.5" ry="16" fill="none" stroke-width="2.3"/>
<ellipse cx="845" cy="2074.5" rx="6.5" ry="16" fill="none" stroke-width="2.3"/>
<line x1="877" y1="2071.5" x2="1053" y2="2071.5" stroke-width="3.6"/>
<circle cx="283" cy="2071.5" r="5" fill="#000" stroke="none"/>
<circle cx="430" cy="2071.5" r="5" fill="#000" stroke="none"/>
<circle cx="657" cy="2071.5" r="5" fill="#000" stroke="none"/>
<circle cx="1053" cy="2071.5" r="6.5" fill="#000" stroke="none"/>
<line x1="283" y1="2122" x2="332" y2="2122" stroke-width="3.6"/>
<circle cx="283" cy="2122" r="5" fill="#000" stroke="none"/>
<circle cx="332" cy="2122" r="4" fill="#000" stroke="none"/>
<line x1="336" y1="2108" x2="378" y2="2119" stroke-width="5"/>
<circle cx="382" cy="2122" r="4.5" fill="#fff" stroke-width="2.5"/>
<polyline points="386,2122 432,2122 432,2268.5 395,2268.5" stroke-width="3.6" fill="none"/>
<polyline points="283,2168.5 302,2168.5" stroke-width="3.6" fill="none"/>
<path d="M302,2168.5 C311,2168.5 307,2150.5 320,2150.5 L389,2150.5 C402,2150.5 398,2168.5 407,2168.5" stroke-width="2.3" fill="none"/>
<ellipse cx="333" cy="2165.5" rx="6.5" ry="15" fill="none" stroke-width="2.3"/>
<ellipse cx="355" cy="2165.5" rx="6.5" ry="15" fill="none" stroke-width="2.3"/>
<ellipse cx="377" cy="2165.5" rx="6.5" ry="15" fill="none" stroke-width="2.3"/>
<line x1="407" y1="2168.5" x2="432" y2="2168.5" stroke-width="3.6"/>
<circle cx="432" cy="2168.5" r="5" fill="#000" stroke="none"/>
<rect x="428" y="2213.8" width="8" height="5.5" fill="#fff" stroke="none"/>
<line x1="417" y1="2210.5" x2="447" y2="2210.5" stroke-width="6.5"/>
<line x1="417" y1="2222.5" x2="447" y2="2222.5" stroke-width="6.5"/>
<polyline points="137,2216 107,2270 137,2325" stroke-width="6" fill="none"/>
<line x1="107" y1="2270" x2="200" y2="2269" stroke-width="3.6"/>
<line x1="200" y1="2269" x2="225" y2="2269" stroke-width="5"/>
<path d="M223,2257 Q241,2269 223,2281" stroke-width="2.5" fill="none"/>
<line x1="232" y1="2269" x2="318" y2="2269" stroke-width="3.6"/>
<path d="M327,2257 Q309,2269 327,2281" stroke-width="2.5" fill="none"/>
<line x1="325" y1="2269" x2="385" y2="2269" stroke-width="6"/>
<path d="M386,2257 Q404,2269 386,2281" stroke-width="2.5" fill="none"/>
<path d="M223,2208 Q241,2220 223,2232" stroke-width="2.5" fill="none"/>
<line x1="232" y1="2220" x2="320" y2="2220" stroke-width="3.6"/>
<polygon points="333,2220 316,2214 316,2226" fill="#000" stroke="none"/>
<path d="M1044,2181 Q1055,2163 1066,2181" stroke-width="2.5" fill="none"/>
<line x1="1055" y1="2183" x2="1055" y2="2203" stroke-width="6"/>
<polyline points="1055,2203 1055,2265 1109,2265" stroke-width="3.6" fill="none"/>
<line x1="1109" y1="2242" x2="1109" y2="2293" stroke-width="2.5"/>
<line x1="1117" y1="2247" x2="1117" y2="2285" stroke-width="4"/>
<line x1="1124" y1="2254" x2="1124" y2="2277" stroke-width="3"/>
<line x1="1135" y1="2259" x2="1135" y2="2269" stroke-width="2.5"/>
<path d="M1218,986 Q1200,998 1218,1010" stroke-width="2.5" fill="none"/>
<line x1="1222" y1="998" x2="1333" y2="998" stroke-width="3"/>
<line x1="1222" y1="998" x2="1241" y2="998" stroke-width="6"/>
<line x1="1313" y1="998" x2="1333" y2="998" stroke-width="6"/>
<path d="M1334,986 Q1352,998 1334,1010" stroke-width="2.5" fill="none"/>
<polyline points="1343,998 1428,998 1428,1024.5" stroke-width="3.6" fill="none"/>
<circle cx="1367" cy="998" r="5" fill="#000" stroke="none"/>
<line x1="1433" y1="1000" x2="1433" y2="1020" stroke-width="2"/>
<line x1="1438" y1="1000" x2="1438" y2="1020" stroke-width="2"/>
<circle cx="1428" cy="1046.5" r="22" fill="none" stroke-width="2.6"/>
<line x1="1412.4" y1="1030.9" x2="1443.6" y2="1062.1" stroke-width="2.3"/>
<line x1="1412.4" y1="1062.1" x2="1443.6" y2="1030.9" stroke-width="2.3"/>
<circle cx="1428" cy="1137.5" r="22" fill="none" stroke-width="2.6"/>
<line x1="1412.4" y1="1121.9" x2="1443.6" y2="1153.1" stroke-width="2.3"/>
<line x1="1412.4" y1="1153.1" x2="1443.6" y2="1121.9" stroke-width="2.3"/>
<circle cx="1428" cy="1228.5" r="22" fill="none" stroke-width="2.6"/>
<line x1="1412.4" y1="1212.9" x2="1443.6" y2="1244.1" stroke-width="2.3"/>
<line x1="1412.4" y1="1244.1" x2="1443.6" y2="1212.9" stroke-width="2.3"/>
<line x1="1428" y1="1068.5" x2="1428" y2="1115.5" stroke-width="3.6"/>
<line x1="1428" y1="1159.5" x2="1428" y2="1206.5" stroke-width="3.6"/>
<line x1="1367" y1="1090.5" x2="1428" y2="1090.5" stroke-width="3.6"/>
<circle cx="1367" cy="1090.5" r="5" fill="#000" stroke="none"/>
<circle cx="1428" cy="1090.5" r="5" fill="#000" stroke="none"/>
<line x1="1367" y1="1181.5" x2="1428" y2="1181.5" stroke-width="3.6"/>
<circle cx="1367" cy="1181.5" r="5" fill="#000" stroke="none"/>
<circle cx="1428" cy="1181.5" r="5" fill="#000" stroke="none"/>
<line x1="1367" y1="998" x2="1367" y2="1021.5" stroke-width="3.6"/>
<circle cx="1367" cy="1021.5" r="4" fill="#000" stroke="none"/>
<line x1="1354" y1="1025.5" x2="1365" y2="1067" stroke-width="5"/>
<circle cx="1367" cy="1071" r="4.5" fill="#fff" stroke-width="2.5"/>
<line x1="1367" y1="1075.5" x2="1367" y2="1115.5" stroke-width="3.6"/>
<circle cx="1367" cy="1115.5" r="4" fill="#000" stroke="none"/>
<line x1="1355" y1="1119.5" x2="1365" y2="1157.5" stroke-width="5"/>
<circle cx="1367" cy="1161.5" r="4.5" fill="#fff" stroke-width="2.5"/>
<line x1="1367" y1="1166" x2="1367" y2="1205.5" stroke-width="3.6"/>
<circle cx="1367" cy="1205.5" r="4" fill="#000" stroke="none"/>
<line x1="1355" y1="1209.5" x2="1365" y2="1247.5" stroke-width="5"/>
<circle cx="1367" cy="1251.5" r="4.5" fill="#fff" stroke-width="2.5"/>
<line x1="1367" y1="1256" x2="1367" y2="1271.5" stroke-width="3.6"/>
<line x1="1221" y1="1059" x2="1254" y2="1059" stroke-width="6"/>
<polyline points="1254,1059 1258.5,1078 1268,1048 1277,1078 1287,1048 1296,1078 1302,1059" stroke-width="3" fill="none"/>
<line x1="1302" y1="1059" x2="1333" y2="1059" stroke-width="6"/>
<line x1="1250" y1="1087" x2="1304" y2="1087" stroke-width="6"/>
<line x1="1187" y1="1272.5" x2="1187" y2="1296.5" stroke-width="3.6"/>
<circle cx="1187" cy="1296.5" r="4" fill="#000" stroke="none"/>
<line x1="1174" y1="1300.5" x2="1185" y2="1340.5" stroke-width="5"/>
<circle cx="1187" cy="1344.5" r="4.5" fill="#fff" stroke-width="2.5"/>
<line x1="1187" y1="1349" x2="1187" y2="1476.6" stroke-width="3.6"/>
<rect x="1177" y="1374.6" width="20" height="42" fill="none" stroke-width="3"/>
<polyline points="1187,1476.6 1171,1482.5 1203,1491.7 1171,1501 1203,1510.5 1171,1520.6 1203,1530 1171,1538.5 1187,1544.6" stroke-width="4.4" fill="none"/>
<line x1="1215" y1="1474" x2="1215" y2="1545" stroke-width="6"/>
<line x1="1187" y1="1544.6" x2="1187" y2="1590" stroke-width="3.6"/>
<path d="M1187,1590 C1187,1599 1169,1595 1169,1608 L1169,1678 C1169,1691 1187,1687 1187,1696" stroke-width="2.3" fill="none"/>
<ellipse cx="1186" cy="1626.6" rx="14" ry="7" fill="none" stroke-width="2.3"/>
<ellipse cx="1186" cy="1646.6" rx="14" ry="7" fill="none" stroke-width="2.3"/>
<ellipse cx="1186" cy="1665.6" rx="14" ry="7" fill="none" stroke-width="2.3"/>
<line x1="1187" y1="1696" x2="1187" y2="1775" stroke-width="3.6"/>
<line x1="1187" y1="1775" x2="1187" y2="1800" stroke-width="7"/>
<circle cx="1187" cy="1570" r="5" fill="#000" stroke="none"/>
<line x1="1187" y1="1570" x2="1477" y2="1570" stroke-width="3.6"/>
<rect x="1254" y="1566.5" width="7" height="8" fill="#fff" stroke="none"/>
<line x1="1251" y1="1556.5" x2="1251" y2="1584.5" stroke-width="6"/>
<line x1="1264" y1="1556.5" x2="1264" y2="1584.5" stroke-width="6"/>
<circle cx="1333" cy="1570" r="5" fill="#000" stroke="none"/>
<rect x="1397" y="1567" width="8" height="8" fill="#fff" stroke="none"/>
<line x1="1394" y1="1557" x2="1394" y2="1585" stroke-width="6"/>
<line x1="1408" y1="1557" x2="1408" y2="1585" stroke-width="6"/>
<circle cx="1477" cy="1570" r="5" fill="#000" stroke="none"/>
<rect x="1468" y="1372" width="19" height="45" fill="none" stroke-width="3"/>
<line x1="1477" y1="1417" x2="1477" y2="1478" stroke-width="3.6"/>
<polyline points="1477,1478 1461,1482.5 1493,1491.7 1461,1501 1493,1510.5 1461,1520.6 1493,1530 1461,1538.5 1477,1544" stroke-width="4.4" fill="none"/>
<line x1="1448" y1="1474" x2="1448" y2="1544" stroke-width="6"/>
<line x1="1477" y1="1544" x2="1477" y2="1590" stroke-width="3.6"/>
<path d="M1477,1590 C1477,1599 1459,1595 1459,1608 L1459,1678 C1459,1691 1477,1687 1477,1696" stroke-width="2.3" fill="none"/>
<ellipse cx="1476" cy="1626.6" rx="14" ry="7" fill="none" stroke-width="2.3"/>
<ellipse cx="1476" cy="1646.6" rx="14" ry="7" fill="none" stroke-width="2.3"/>
<ellipse cx="1476" cy="1665.6" rx="14" ry="7" fill="none" stroke-width="2.3"/>
<line x1="1477" y1="1696" x2="1477" y2="1775" stroke-width="3.6"/>
<line x1="1477" y1="1775" x2="1477" y2="1800" stroke-width="7"/>
<circle cx="1477" cy="1725.5" r="5" fill="#000" stroke="none"/>
<polygon points="1325,1725.5 1352,1719 1352,1732" fill="#000" stroke="none"/>
<line x1="1350" y1="1725.5" x2="1477" y2="1725.5" stroke-width="3.6"/>
<rect x="1397" y="1723" width="8" height="8" fill="#fff" stroke="none"/>
<line x1="1394" y1="1712.5" x2="1394" y2="1741.5" stroke-width="6"/>
<line x1="1408" y1="1712.5" x2="1408" y2="1741.5" stroke-width="6"/>
</g>
<g>
<text x="373" y="180" font-size="18" font-style="italic" font-weight="bold" text-anchor="middle" dominant-baseline="central" textLength="90" lengthAdjust="spacingAndGlyphs" transform="rotate(-90 373 180)">nur bei</text>
<text x="400" y="179" font-size="18" font-style="italic" font-weight="bold" text-anchor="middle" dominant-baseline="central" textLength="88" lengthAdjust="spacingAndGlyphs" transform="rotate(-90 400 179)">GD 320</text>
<text x="182" y="375" font-size="21" font-style="italic" font-weight="bold" text-anchor="middle" dominant-baseline="central" textLength="50" lengthAdjust="spacingAndGlyphs" transform="rotate(-90 182 375)">2nF</text>
<text x="56" y="470" font-size="36" font-style="italic" font-weight="bold" text-anchor="middle" dominant-baseline="central" textLength="194" lengthAdjust="spacingAndGlyphs" transform="rotate(-90 56 470)">RENS 1823d</text>
<text x="311" y="576" font-size="22" font-style="italic" font-weight="bold" text-anchor="middle" dominant-baseline="central" textLength="63" lengthAdjust="spacingAndGlyphs" transform="rotate(-90 311 576)">0,3MΩ</text>
<text x="316" y="737" font-size="21" font-style="italic" font-weight="bold" text-anchor="middle" dominant-baseline="central" textLength="45" lengthAdjust="spacingAndGlyphs" transform="rotate(-90 316 737)">5nF</text>
<text x="489" y="716" font-size="21" font-style="italic" font-weight="bold" text-anchor="middle" dominant-baseline="central" textLength="48" lengthAdjust="spacingAndGlyphs" transform="rotate(-90 489 716)">2nF</text>
<text x="668" y="583" font-size="22" font-style="italic" font-weight="bold" text-anchor="middle" dominant-baseline="central" textLength="53" lengthAdjust="spacingAndGlyphs" transform="rotate(-90 668 583)">1MΩ</text>
<text x="651" y="732" font-size="21" font-style="italic" font-weight="bold" text-anchor="middle" dominant-baseline="central" textLength="49" lengthAdjust="spacingAndGlyphs" transform="rotate(-90 651 732)">1MΩ</text>
<text x="1000" y="370" font-size="19" font-style="italic" font-weight="bold" text-anchor="middle" dominant-baseline="central" transform="rotate(-90 1000 370)">3</text>
<text x="1023" y="370" font-size="20" font-style="italic" font-weight="bold" text-anchor="middle" dominant-baseline="central" textLength="31" lengthAdjust="spacingAndGlyphs" transform="rotate(-90 1023 370)">kΩ</text>
<text x="1017" y="307" font-size="23" font-style="italic" font-weight="bold" text-anchor="middle" dominant-baseline="central" textLength="50" lengthAdjust="spacingAndGlyphs" transform="rotate(-90 1017 307)">2μF</text>
<text x="995" y="459" font-size="19" font-style="italic" font-weight="bold" text-anchor="middle" dominant-baseline="central" transform="rotate(-90 995 459)">1</text>
<text x="1024" y="463" font-size="21" font-style="italic" font-weight="bold" text-anchor="middle" dominant-baseline="central" textLength="38" lengthAdjust="spacingAndGlyphs" transform="rotate(-90 1024 463)">μF</text>
<text x="1005" y="514" font-size="21" font-style="italic" font-weight="bold" text-anchor="middle" dominant-baseline="central" textLength="38" lengthAdjust="spacingAndGlyphs" transform="rotate(-90 1005 514)">500</text>
<text x="1031" y="513" font-size="20" font-style="italic" font-weight="bold" text-anchor="middle" dominant-baseline="central" transform="rotate(-90 1031 513)">Ω</text>
<text x="957" y="573" font-size="21" font-style="italic" font-weight="bold" text-anchor="middle" dominant-baseline="central" textLength="21" lengthAdjust="spacingAndGlyphs" transform="rotate(-90 957 573)">10</text>
<text x="985" y="577" font-size="21" font-style="italic" font-weight="bold" text-anchor="middle" dominant-baseline="central" textLength="37" lengthAdjust="spacingAndGlyphs" transform="rotate(-90 985 577)">μF</text>
<text x="950" y="545" font-size="34" font-style="normal" font-weight="bold" text-anchor="middle" dominant-baseline="central">+</text>
<text x="1157" y="487" font-size="21" font-style="italic" font-weight="bold" text-anchor="middle" dominant-baseline="central" textLength="45" lengthAdjust="spacingAndGlyphs" transform="rotate(-90 1157 487)">4μF</text>
<text x="1230" y="447" font-size="21" font-style="italic" font-weight="bold" text-anchor="middle" dominant-baseline="central" textLength="56" lengthAdjust="spacingAndGlyphs" transform="rotate(-90 1230 447)">Feld</text>
<text x="1184" y="664" font-size="21" font-style="italic" font-weight="bold" text-anchor="middle" dominant-baseline="central" textLength="34" lengthAdjust="spacingAndGlyphs" transform="rotate(-90 1184 664)">110</text>
<text x="1235" y="664" font-size="21" font-style="italic" font-weight="bold" text-anchor="middle" dominant-baseline="central" textLength="34" lengthAdjust="spacingAndGlyphs" transform="rotate(-90 1235 664)">125</text>
<text x="1283" y="664" font-size="21" font-style="italic" font-weight="bold" text-anchor="middle" dominant-baseline="central" textLength="34" lengthAdjust="spacingAndGlyphs" transform="rotate(-90 1283 664)">150</text>
<text x="1316" y="662" font-size="21" font-style="italic" font-weight="bold" text-anchor="middle" dominant-baseline="central" textLength="37" lengthAdjust="spacingAndGlyphs" transform="rotate(-90 1316 662)">220</text>
<text x="997" y="718" font-size="21" font-style="italic" font-weight="bold" text-anchor="middle" dominant-baseline="central" textLength="27" lengthAdjust="spacingAndGlyphs" transform="rotate(-90 997 718)">0,5</text>
<text x="1021" y="716" font-size="21" font-style="italic" font-weight="bold" text-anchor="middle" dominant-baseline="central" textLength="35" lengthAdjust="spacingAndGlyphs" transform="rotate(-90 1021 716)">μF</text>
<text x="1005" y="813" font-size="21" font-style="italic" font-weight="bold" text-anchor="middle" dominant-baseline="central" textLength="26" lengthAdjust="spacingAndGlyphs" transform="rotate(-90 1005 813)">30</text>
<text x="1028" y="814" font-size="21" font-style="italic" font-weight="bold" text-anchor="middle" dominant-baseline="central" textLength="32" lengthAdjust="spacingAndGlyphs" transform="rotate(-90 1028 814)">kΩ</text>
<text x="762" y="808" font-size="21" font-style="italic" font-weight="bold" text-anchor="middle" dominant-baseline="central" textLength="28" lengthAdjust="spacingAndGlyphs" transform="rotate(-90 762 808)">0,2</text>
<text x="785" y="816" font-size="21" font-style="italic" font-weight="bold" text-anchor="middle" dominant-baseline="central" textLength="33" lengthAdjust="spacingAndGlyphs" transform="rotate(-90 785 816)">MΩ</text>
<text x="920" y="881" font-size="21" font-style="italic" font-weight="bold" text-anchor="middle" dominant-baseline="central" textLength="57" lengthAdjust="spacingAndGlyphs" transform="rotate(-90 920 881)">0,1μF</text>
<text x="795" y="924" font-size="21" font-style="italic" font-weight="bold" text-anchor="middle" dominant-baseline="central" textLength="25" lengthAdjust="spacingAndGlyphs" transform="rotate(-90 795 924)">0,1</text>
<text x="822" y="932" font-size="21" font-style="italic" font-weight="bold" text-anchor="middle" dominant-baseline="central" textLength="37" lengthAdjust="spacingAndGlyphs" transform="rotate(-90 822 932)">μF</text>
<text x="957" y="886" font-size="21" font-style="italic" font-weight="bold" text-anchor="middle" dominant-baseline="central" textLength="30" lengthAdjust="spacingAndGlyphs" transform="rotate(-90 957 886)">0,2</text>
<text x="983" y="887" font-size="21" font-style="italic" font-weight="bold" text-anchor="middle" dominant-baseline="central" textLength="40" lengthAdjust="spacingAndGlyphs" transform="rotate(-90 983 887)">MΩ</text>
<text x="987" y="988" font-size="21" font-style="italic" font-weight="bold" text-anchor="middle" dominant-baseline="central" textLength="26" lengthAdjust="spacingAndGlyphs" transform="rotate(-90 987 988)">0,4</text>
<text x="1013" y="989" font-size="21" font-style="italic" font-weight="bold" text-anchor="middle" dominant-baseline="central" textLength="38" lengthAdjust="spacingAndGlyphs" transform="rotate(-90 1013 989)">MΩ</text>
<text x="182" y="860" font-size="21" font-style="italic" font-weight="bold" text-anchor="middle" dominant-baseline="central" textLength="56" lengthAdjust="spacingAndGlyphs" transform="rotate(-90 182 860)">50pF</text>
<text x="56" y="1005" font-size="36" font-style="italic" font-weight="bold" text-anchor="middle" dominant-baseline="central" textLength="165" lengthAdjust="spacingAndGlyphs" transform="rotate(-90 56 1005)">RENS 1818</text>
<text x="1157" y="956" font-size="21" font-style="italic" font-weight="bold" text-anchor="middle" dominant-baseline="central" textLength="63" lengthAdjust="spacingAndGlyphs" transform="rotate(-90 1157 956)">200Ω</text>
<text x="1252" y="968" font-size="22" font-style="italic" font-weight="bold" text-anchor="middle" dominant-baseline="central" textLength="43" lengthAdjust="spacingAndGlyphs" transform="rotate(-90 1252 968)">EU1</text>
<text x="1423" y="971" font-size="20" font-style="italic" font-weight="bold" text-anchor="middle" dominant-baseline="central" textLength="31" lengthAdjust="spacingAndGlyphs" transform="rotate(-90 1423 971)">8V</text>
<text x="1450" y="975" font-size="20" font-style="italic" font-weight="bold" text-anchor="middle" dominant-baseline="central" textLength="56" lengthAdjust="spacingAndGlyphs" transform="rotate(-90 1450 975)">0,23A</text>
<text x="1466" y="1050" font-size="19" font-style="italic" font-weight="bold" text-anchor="middle" dominant-baseline="central" textLength="57" lengthAdjust="spacingAndGlyphs" transform="rotate(-90 1466 1050)">weiß</text>
<text x="1466" y="1142" font-size="19" font-style="italic" font-weight="bold" text-anchor="middle" dominant-baseline="central" textLength="56" lengthAdjust="spacingAndGlyphs" transform="rotate(-90 1466 1142)">grün</text>
<text x="1466" y="1241" font-size="19" font-style="italic" font-weight="bold" text-anchor="middle" dominant-baseline="central" textLength="54" lengthAdjust="spacingAndGlyphs" transform="rotate(-90 1466 1241)">gelb</text>
<text x="1282" y="1108" font-size="22" font-style="italic" font-weight="bold" text-anchor="middle" dominant-baseline="central" textLength="55" lengthAdjust="spacingAndGlyphs" transform="rotate(180 1282 1108)">Feld</text>
<text x="1270" y="1143" font-size="22" font-style="italic" font-weight="bold" text-anchor="middle" dominant-baseline="central" textLength="86" lengthAdjust="spacingAndGlyphs" transform="rotate(180 1270 1143)">WD 320</text>
<text x="1272" y="1174" font-size="22" font-style="italic" font-weight="bold" text-anchor="middle" dominant-baseline="central" textLength="90" lengthAdjust="spacingAndGlyphs" transform="rotate(180 1272 1174)">nur bei</text>
<text x="973" y="1105" font-size="21" font-style="italic" font-weight="bold" text-anchor="middle" dominant-baseline="central" textLength="25" lengthAdjust="spacingAndGlyphs" transform="rotate(-90 973 1105)">TA</text>
<text x="960" y="1184" font-size="21" font-style="italic" font-weight="bold" text-anchor="middle" dominant-baseline="central" textLength="25" lengthAdjust="spacingAndGlyphs" transform="rotate(-90 960 1184)">10</text>
<text x="985" y="1188" font-size="21" font-style="italic" font-weight="bold" text-anchor="middle" dominant-baseline="central" textLength="32" lengthAdjust="spacingAndGlyphs" transform="rotate(-90 985 1188)">kΩ</text>
<text x="604" y="1120" font-size="18" font-style="italic" font-weight="bold" text-anchor="middle" dominant-baseline="central" textLength="20" lengthAdjust="spacingAndGlyphs" transform="rotate(-90 604 1120)">12</text>
<text x="790" y="1157" font-size="18" font-style="italic" font-weight="bold" text-anchor="middle" dominant-baseline="central" textLength="15" lengthAdjust="spacingAndGlyphs" transform="rotate(-90 790 1157)">11</text>
<text x="133" y="1152" font-size="21" font-style="italic" font-weight="bold" text-anchor="middle" dominant-baseline="central" textLength="70" lengthAdjust="spacingAndGlyphs" transform="rotate(-90 133 1152)">250pF</text>
<text x="315" y="1151" font-size="21" font-style="italic" font-weight="bold" text-anchor="middle" dominant-baseline="central" textLength="68" lengthAdjust="spacingAndGlyphs" transform="rotate(-90 315 1151)">300pF</text>
<text x="248" y="1240" font-size="21" font-style="italic" font-weight="bold" text-anchor="middle" dominant-baseline="central" textLength="70" lengthAdjust="spacingAndGlyphs" transform="rotate(-90 248 1240)">300pF</text>
<text x="404" y="1149" font-size="21" font-style="italic" font-weight="bold" text-anchor="middle" dominant-baseline="central" textLength="48" lengthAdjust="spacingAndGlyphs" transform="rotate(-90 404 1149)">1MΩ</text>
<text x="1224" y="1247" font-size="20" font-style="italic" font-weight="bold" text-anchor="middle" dominant-baseline="central" textLength="45" lengthAdjust="spacingAndGlyphs" transform="rotate(-90 1224 1247)">1818</text>
<text x="1278" y="1242" font-size="20" font-style="italic" font-weight="bold" text-anchor="middle" dominant-baseline="central" textLength="59" lengthAdjust="spacingAndGlyphs" transform="rotate(-90 1278 1242)">1823d</text>
<text x="1330" y="1247" font-size="20" font-style="italic" font-weight="bold" text-anchor="middle" dominant-baseline="central" textLength="45" lengthAdjust="spacingAndGlyphs" transform="rotate(-90 1330 1247)">1894</text>
<text x="207" y="1353" font-size="18" font-style="italic" font-weight="bold" text-anchor="middle" dominant-baseline="central" transform="rotate(-90 207 1353)">8</text>
<text x="207" y="1400" font-size="18" font-style="italic" font-weight="bold" text-anchor="middle" dominant-baseline="central" transform="rotate(-90 207 1400)">7</text>
<text x="1161" y="1408" font-size="21" font-style="italic" font-weight="bold" text-anchor="middle" dominant-baseline="central" textLength="57" lengthAdjust="spacingAndGlyphs" transform="rotate(-90 1161 1408)">0,35A</text>
<text x="1447" y="1395" font-size="21" font-style="italic" font-weight="bold" text-anchor="middle" dominant-baseline="central" textLength="55" lengthAdjust="spacingAndGlyphs" transform="rotate(-90 1447 1395)">0,35A</text>
<text x="962" y="1410" font-size="21" font-style="italic" font-weight="bold" text-anchor="middle" dominant-baseline="central" textLength="25" lengthAdjust="spacingAndGlyphs" transform="rotate(-90 962 1410)">10</text>
<text x="985" y="1410" font-size="21" font-style="italic" font-weight="bold" text-anchor="middle" dominant-baseline="central" textLength="30" lengthAdjust="spacingAndGlyphs" transform="rotate(-90 985 1410)">nF</text>
<text x="712" y="1457" font-size="18" font-style="italic" font-weight="bold" text-anchor="middle" dominant-baseline="central" textLength="16" lengthAdjust="spacingAndGlyphs" transform="rotate(-90 712 1457)">10</text>
<text x="712" y="1504" font-size="18" font-style="italic" font-weight="bold" text-anchor="middle" dominant-baseline="central" transform="rotate(-90 712 1504)">9</text>
<text x="207" y="1551" font-size="18" font-style="italic" font-weight="bold" text-anchor="middle" dominant-baseline="central" transform="rotate(-90 207 1551)">6</text>
<text x="1257" y="1532" font-size="21" font-style="italic" font-weight="bold" text-anchor="middle" dominant-baseline="central" textLength="46" lengthAdjust="spacingAndGlyphs" transform="rotate(-90 1257 1532)">5nF</text>
<text x="1400" y="1527" font-size="21" font-style="italic" font-weight="bold" text-anchor="middle" dominant-baseline="central" textLength="43" lengthAdjust="spacingAndGlyphs" transform="rotate(-90 1400 1527)">5nF</text>
<text x="120" y="1721" font-size="21" font-style="italic" font-weight="bold" text-anchor="middle" dominant-baseline="central" textLength="65" lengthAdjust="spacingAndGlyphs" transform="rotate(-90 120 1721)">1,5mA</text>
<text x="405" y="1688" font-size="21" font-style="italic" font-weight="bold" text-anchor="middle" dominant-baseline="central" textLength="54" lengthAdjust="spacingAndGlyphs" transform="rotate(-90 405 1688)">10kΩ</text>
<text x="541" y="1691" font-size="21" font-style="italic" font-weight="bold" text-anchor="middle" dominant-baseline="central" textLength="47" lengthAdjust="spacingAndGlyphs" transform="rotate(-90 541 1691)">5kΩ</text>
<text x="965" y="1657" font-size="18" font-style="italic" font-weight="bold" text-anchor="middle" dominant-baseline="central" transform="rotate(-90 965 1657)">1</text>
<text x="988" y="1663" font-size="21" font-style="italic" font-weight="bold" text-anchor="middle" dominant-baseline="central" textLength="33" lengthAdjust="spacingAndGlyphs" transform="rotate(-90 988 1663)">μF</text>
<text x="385" y="1792" font-size="22" font-style="italic" font-weight="bold" text-anchor="middle" dominant-baseline="central" textLength="70" lengthAdjust="spacingAndGlyphs" transform="rotate(180 385 1792)">2,4mA</text>
<text x="57" y="1772" font-size="36" font-style="italic" font-weight="bold" text-anchor="middle" dominant-baseline="central" textLength="177" lengthAdjust="spacingAndGlyphs" transform="rotate(-90 57 1772)">RENS 1894</text>
<text x="962" y="1768" font-size="21" font-style="italic" font-weight="bold" text-anchor="middle" dominant-baseline="central" textLength="34" lengthAdjust="spacingAndGlyphs" transform="rotate(-90 962 1768)">120</text>
<text x="988" y="1777" font-size="20" font-style="italic" font-weight="bold" text-anchor="middle" dominant-baseline="central" transform="rotate(-90 988 1777)">Ω</text>
<text x="1308" y="1733" font-size="21" font-style="italic" font-weight="bold" text-anchor="middle" dominant-baseline="central" textLength="30" lengthAdjust="spacingAndGlyphs" transform="rotate(-90 1308 1733)">LA</text>
<text x="1331" y="1790" font-size="21" font-style="italic" font-weight="bold" text-anchor="middle" dominant-baseline="central" textLength="49" lengthAdjust="spacingAndGlyphs" transform="rotate(-90 1331 1790)">50W</text>
<text x="1406" y="1678" font-size="21" font-style="italic" font-weight="bold" text-anchor="middle" dominant-baseline="central" textLength="65" lengthAdjust="spacingAndGlyphs" transform="rotate(-90 1406 1678)">100pF</text>
<text x="136" y="1829" font-size="21" font-style="italic" font-weight="bold" text-anchor="middle" dominant-baseline="central" textLength="58" lengthAdjust="spacingAndGlyphs" transform="rotate(-90 136 1829)">25pF</text>
<text x="965" y="1866" font-size="21" font-style="italic" font-weight="bold" text-anchor="middle" dominant-baseline="central" textLength="26" lengthAdjust="spacingAndGlyphs" transform="rotate(-90 965 1866)">0,1</text>
<text x="990" y="1872" font-size="21" font-style="italic" font-weight="bold" text-anchor="middle" dominant-baseline="central" textLength="33" lengthAdjust="spacingAndGlyphs" transform="rotate(-90 990 1872)">μF</text>
<text x="208" y="1885" font-size="18" font-style="italic" font-weight="bold" text-anchor="middle" dominant-baseline="central" transform="rotate(-90 208 1885)">3</text>
<text x="208" y="1934" font-size="18" font-style="italic" font-weight="bold" text-anchor="middle" dominant-baseline="central" transform="rotate(-90 208 1934)">2</text>
<text x="527" y="1980" font-size="16" font-style="italic" font-weight="bold" text-anchor="middle" dominant-baseline="central" transform="rotate(-90 527 1980)">4</text>
<text x="776" y="1982" font-size="16" font-style="italic" font-weight="bold" text-anchor="middle" dominant-baseline="central" transform="rotate(-90 776 1982)">5</text>
<text x="354" y="2126" font-size="16" font-style="italic" font-weight="bold" text-anchor="middle" dominant-baseline="central" transform="rotate(-90 354 2126)">1</text>
<text x="348" y="2220" font-size="21" font-style="italic" font-weight="bold" text-anchor="middle" dominant-baseline="central" textLength="30" lengthAdjust="spacingAndGlyphs" transform="rotate(-90 348 2220)">LA</text>
<text x="467" y="2224" font-size="21" font-style="italic" font-weight="bold" text-anchor="middle" dominant-baseline="central" textLength="45" lengthAdjust="spacingAndGlyphs" transform="rotate(-90 467 2224)">8pF</text>
</g>
<g stroke="#000" fill="none">
<rect x="1257" y="1821" width="150" height="482" stroke-width="4"/>
<line x1="1286" y1="1821" x2="1286" y2="2305" stroke-width="3"/>
<line x1="1315" y1="1821" x2="1315" y2="2305" stroke-width="3"/>
<line x1="1346" y1="1821" x2="1346" y2="2305" stroke-width="3"/>
<line x1="1375" y1="1821" x2="1375" y2="2305" stroke-width="3"/>
<line x1="1256" y1="1847" x2="1406" y2="1847" stroke-width="3"/>
<line x1="1256" y1="1878" x2="1406" y2="1878" stroke-width="3"/>
<line x1="1256" y1="1908" x2="1406" y2="1908" stroke-width="3"/>
<line x1="1256" y1="1939" x2="1406" y2="1939" stroke-width="3"/>
<line x1="1256" y1="1969" x2="1406" y2="1969" stroke-width="3"/>
<line x1="1256" y1="1999" x2="1406" y2="1999" stroke-width="3"/>
<line x1="1256" y1="2029" x2="1406" y2="2029" stroke-width="3"/>
<line x1="1256" y1="2059" x2="1406" y2="2059" stroke-width="3"/>
<line x1="1256" y1="2089" x2="1406" y2="2089" stroke-width="3"/>
<line x1="1256" y1="2119" x2="1406" y2="2119" stroke-width="3"/>
<line x1="1256" y1="2150" x2="1406" y2="2150" stroke-width="3"/>
<line x1="1256" y1="2180" x2="1406" y2="2180" stroke-width="3"/>
<line x1="1375" y1="1821" x2="1406" y2="1847" stroke-width="2.5"/>
<line x1="1375" y1="1847" x2="1406" y2="1821" stroke-width="2.5"/>
<line x1="1286" y1="1847" x2="1315" y2="1878" stroke-width="2.5"/>
<line x1="1286" y1="1878" x2="1315" y2="1847" stroke-width="2.5"/>
<line x1="1315" y1="1847" x2="1346" y2="1878" stroke-width="2.5"/>
<line x1="1315" y1="1878" x2="1346" y2="1847" stroke-width="2.5"/>
<line x1="1346" y1="1847" x2="1375" y2="1878" stroke-width="2.5"/>
<line x1="1346" y1="1878" x2="1375" y2="1847" stroke-width="2.5"/>
<line x1="1286" y1="1878" x2="1315" y2="1908" stroke-width="2.5"/>
<line x1="1286" y1="1908" x2="1315" y2="1878" stroke-width="2.5"/>
<line x1="1315" y1="1908" x2="1346" y2="1939" stroke-width="2.5"/>
<line x1="1315" y1="1939" x2="1346" y2="1908" stroke-width="2.5"/>
<line x1="1346" y1="1939" x2="1375" y2="1969" stroke-width="2.5"/>
<line x1="1346" y1="1969" x2="1375" y2="1939" stroke-width="2.5"/>
<line x1="1375" y1="1939" x2="1406" y2="1969" stroke-width="2.5"/>
<line x1="1375" y1="1969" x2="1406" y2="1939" stroke-width="2.5"/>
<line x1="1315" y1="1969" x2="1346" y2="1999" stroke-width="2.5"/>
<line x1="1315" y1="1999" x2="1346" y2="1969" stroke-width="2.5"/>
<line x1="1286" y1="1999" x2="1315" y2="2029" stroke-width="2.5"/>
<line x1="1286" y1="2029" x2="1315" y2="1999" stroke-width="2.5"/>
<line x1="1315" y1="2029" x2="1346" y2="2059" stroke-width="2.5"/>
<line x1="1315" y1="2059" x2="1346" y2="2029" stroke-width="2.5"/>
<line x1="1286" y1="2059" x2="1315" y2="2089" stroke-width="2.5"/>
<line x1="1286" y1="2089" x2="1315" y2="2059" stroke-width="2.5"/>
<line x1="1375" y1="2059" x2="1406" y2="2089" stroke-width="2.5"/>
<line x1="1375" y1="2089" x2="1406" y2="2059" stroke-width="2.5"/>
<line x1="1315" y1="2089" x2="1346" y2="2119" stroke-width="2.5"/>
<line x1="1315" y1="2119" x2="1346" y2="2089" stroke-width="2.5"/>
<line x1="1346" y1="2089" x2="1375" y2="2119" stroke-width="2.5"/>
<line x1="1346" y1="2119" x2="1375" y2="2089" stroke-width="2.5"/>
<line x1="1286" y1="2119" x2="1315" y2="2150" stroke-width="2.5"/>
<line x1="1286" y1="2150" x2="1315" y2="2119" stroke-width="2.5"/>
<line x1="1315" y1="2150" x2="1346" y2="2180" stroke-width="2.5"/>
<line x1="1315" y1="2180" x2="1346" y2="2150" stroke-width="2.5"/>
</g>
<text x="1271" y="1834.0" font-size="19" font-style="italic" font-weight="bold" text-anchor="middle" dominant-baseline="central" transform="rotate(-90 1271 1834.0)">12</text>
<text x="1271" y="1862.5" font-size="19" font-style="italic" font-weight="bold" text-anchor="middle" dominant-baseline="central" transform="rotate(-90 1271 1862.5)">11</text>
<text x="1271" y="1893.0" font-size="19" font-style="italic" font-weight="bold" text-anchor="middle" dominant-baseline="central" transform="rotate(-90 1271 1893.0)">10</text>
<text x="1271" y="1923.5" font-size="19" font-style="italic" font-weight="bold" text-anchor="middle" dominant-baseline="central" transform="rotate(-90 1271 1923.5)">9</text>
<text x="1271" y="1954.0" font-size="19" font-style="italic" font-weight="bold" text-anchor="middle" dominant-baseline="central" transform="rotate(-90 1271 1954.0)">8</text>
<text x="1271" y="1984.0" font-size="19" font-style="italic" font-weight="bold" text-anchor="middle" dominant-baseline="central" transform="rotate(-90 1271 1984.0)">7</text>
<text x="1271" y="2014.0" font-size="19" font-style="italic" font-weight="bold" text-anchor="middle" dominant-baseline="central" transform="rotate(-90 1271 2014.0)">6</text>
<text x="1271" y="2044.0" font-size="19" font-style="italic" font-weight="bold" text-anchor="middle" dominant-baseline="central" transform="rotate(-90 1271 2044.0)">5</text>
<text x="1271" y="2074.0" font-size="19" font-style="italic" font-weight="bold" text-anchor="middle" dominant-baseline="central" transform="rotate(-90 1271 2074.0)">4</text>
<text x="1271" y="2104.0" font-size="19" font-style="italic" font-weight="bold" text-anchor="middle" dominant-baseline="central" transform="rotate(-90 1271 2104.0)">3</text>
<text x="1271" y="2134.5" font-size="19" font-style="italic" font-weight="bold" text-anchor="middle" dominant-baseline="central" transform="rotate(-90 1271 2134.5)">2</text>
<text x="1271" y="2165.0" font-size="19" font-style="italic" font-weight="bold" text-anchor="middle" dominant-baseline="central" transform="rotate(-90 1271 2165.0)">1</text>
<text x="1273" y="2297" font-size="21" font-style="italic" font-weight="bold" text-anchor="start" dominant-baseline="central" textLength="102" lengthAdjust="spacingAndGlyphs" transform="rotate(-90 1273 2297)">Schalter</text>
<text x="1302" y="2297" font-size="21" font-style="italic" font-weight="bold" text-anchor="start" dominant-baseline="central" textLength="60" lengthAdjust="spacingAndGlyphs" transform="rotate(-90 1302 2297)">Kurz</text>
<text x="1330" y="2297" font-size="21" font-style="italic" font-weight="bold" text-anchor="start" dominant-baseline="central" textLength="77" lengthAdjust="spacingAndGlyphs" transform="rotate(-90 1330 2297)">Mittel</text>
<text x="1360" y="2297" font-size="21" font-style="italic" font-weight="bold" text-anchor="start" dominant-baseline="central" textLength="58" lengthAdjust="spacingAndGlyphs" transform="rotate(-90 1360 2297)">Lang</text>
<text x="1390" y="2297" font-size="21" font-style="italic" font-weight="bold" text-anchor="start" dominant-baseline="central" textLength="31" lengthAdjust="spacingAndGlyphs" transform="rotate(-90 1390 2297)">TA</text>
<text x="466" y="41" font-size="36" font-weight="bold" textLength="78" lengthAdjust="spacingAndGlyphs" transform="rotate(-0.3 466 41)">Ned.</text>
<text x="561" y="40.8" font-size="36" font-weight="bold" textLength="71" lengthAdjust="spacingAndGlyphs" transform="rotate(-0.5 561 40.8)">Ver.</text>
<text x="647" y="40.3" font-size="36" font-weight="bold" textLength="30" lengthAdjust="spacingAndGlyphs" transform="rotate(-0.5 647 40.3)">v.</text>
<text x="694" y="40" font-size="36" font-weight="bold" textLength="133" lengthAdjust="spacingAndGlyphs" transform="rotate(-1.8 694 40)">Historie</text>
<text x="845" y="34.8" font-size="36" font-weight="bold" textLength="59" lengthAdjust="spacingAndGlyphs" transform="rotate(-1.5 845 34.8)">v/d</text>
<text x="921" y="30.8" font-size="36" font-weight="bold" textLength="91" lengthAdjust="spacingAndGlyphs" transform="rotate(-4.0 921 30.8)">Radio</text>
<polygon points="485,86 858,57 871,222 497,248" fill="none" stroke="#000" stroke-width="3.5"/>
<g transform="rotate(-4.4 728 150)">
<text x="726" y="120" font-size="43" text-anchor="middle" textLength="186" lengthAdjust="spacingAndGlyphs">ARCHIEF</text>
<text x="729" y="159" font-size="24" text-anchor="middle" textLength="236" lengthAdjust="spacingAndGlyphs">DOCUMENTATIEDIENST</text>
<text x="735" y="210" font-size="47" text-anchor="middle" textLength="120" lengthAdjust="spacingAndGlyphs">NVHR</text>
</g>
<g stroke="#000" fill="none">
<circle cx="548.5" cy="147" r="45.5" stroke-width="6.5"/>
<circle cx="569" cy="132" r="17" stroke-width="2"/>
<polyline points="518,178 518,160 540,158 540,176" stroke-width="2"/>
<polyline points="516,162 580,152" stroke-width="3"/>
<rect x="543" y="155" width="34" height="20" stroke-width="2"/>
<polyline points="528,196 536,222 572,222 580,194" stroke-width="3"/>
</g>
<rect x="534" y="200" width="44" height="30" fill="#000"/>
<g stroke="#fff" stroke-width="2"><line x1="540" y1="205" x2="540" y2="228"/><line x1="550" y1="205" x2="550" y2="228"/><line x1="560" y1="205" x2="560" y2="228"/><line x1="570" y1="205" x2="570" y2="228"/><line x1="534" y1="214" x2="578" y2="214"/></g>
<text x="1440" y="129" font-size="55" text-anchor="middle" dominant-baseline="central" textLength="182" lengthAdjust="spacingAndGlyphs" transform="rotate(-90 1440 129)">GD 320</text>
</svg>
</body></html>
